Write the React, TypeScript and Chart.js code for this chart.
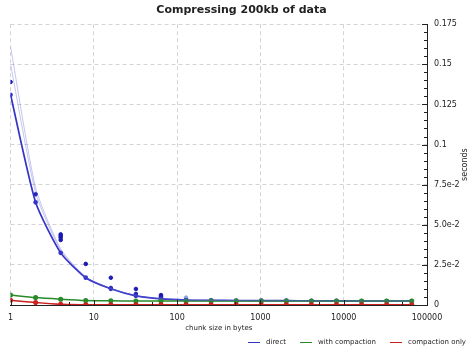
import React, { useEffect, useRef } from "react";
import { Chart, registerables } from "chart.js";

Chart.register(...registerables);

const TITLE = "Compressing 200kb of data";
const X_TITLE = "chunk size in bytes";
const Y_TITLE = "seconds";

// chunk sizes (bytes)
const chunkSizes = [1, 2, 4, 8, 16, 32, 64, 128, 256, 512, 1024, 2048, 4096, 8192, 16384, 32768, 65536];

// main series (seconds)
const direct = [0.131, 0.064, 0.0325, 0.017, 0.0101, 0.0057, 0.0038, 0.0031, 0.0029, 0.0028, 0.0027, 0.0027, 0.0026, 0.0026, 0.0025, 0.0025, 0.0025];
const withCompaction = [0.0062, 0.0046, 0.0036, 0.0028, 0.0026, 0.0025, 0.0025, 0.0025, 0.0025, 0.0025, 0.0025, 0.0025, 0.0025, 0.0025, 0.0025, 0.0025, 0.0025];
const compactionOnly = [0.003, 0.0015, 0.0004, 0.0002, 0.0001, 0.0001, 0.0001, 0.0001, 0.0001, 0.0001, 0.0001, 0.0001, 0.0001, 0.0001, 0.0001, 0.0001, 0.0001];

// other (faded) direct runs
const directRunA = [0.161, 0.073, 0.035, 0.0175, 0.0104, 0.0058, 0.0039, 0.0031, 0.0029, 0.0028, 0.0027, 0.0027, 0.0026, 0.0026, 0.0025, 0.0025, 0.0025];
const directRunB = [0.150, 0.070, 0.034, 0.0172, 0.0102, 0.0057, 0.0038, 0.0031, 0.0029, 0.0028, 0.0027, 0.0027, 0.0026, 0.0026, 0.0025, 0.0025, 0.0025];

// scattered direct samples
const directSampleX = [1, 2, 4, 4, 4, 4, 8, 16, 16, 32, 32, 64, 64, 64];
const directSampleY = [0.139, 0.069, 0.0405, 0.042, 0.043, 0.044, 0.0256, 0.017, 0.0106, 0.0100, 0.0069, 0.0062, 0.0055, 0.0048];
const lightSampleX = [128, 128];
const lightSampleY = [0.0046, 0.0040];

const Y_MIN = 0;
const Y_MAX = 0.175;
const Y_STEP = 0.025;
const Y_MINOR_STEP = 0.005;
const Y_TICK_LABELS = ["0", "2.5e-2", "5.0e-2", "7.5e-2", "0.1", "0.125", "0.15", "0.175"];
const X_MIN = 1;
const X_MAX = 100000;

const LEGEND_ITEMS = ["direct", "with compaction", "compaction only"];

const BLUE = "#3434c8";
const GREEN = "#2a8a2a";
const RED = "#cc2020";
const FONT = "'DejaVu Sans', Verdana, sans-serif";

const pts = (xs: number[], ys: number[]) => xs.map((x, i) => ({ x, y: ys[i] }));

const overlayPlugin = {
  id: "overlay",
  afterDraw(chart: any) {
    const { ctx, chartArea, scales } = chart;
    const xs = scales.x;
    const ys = scales.y;
    ctx.save();
    ctx.strokeStyle = "#222";
    ctx.lineWidth = 1;
    ctx.beginPath();
    // x ticks: majors at powers of 10, minors at 5x
    for (let e = 0; e <= 5; e++) {
      const p = Math.round(xs.getPixelForValue(Math.pow(10, e))) + 0.5;
      ctx.moveTo(p, chartArea.bottom);
      ctx.lineTo(p, chartArea.bottom - 5);
      if (e < 5) {
        const q = Math.round(xs.getPixelForValue(5 * Math.pow(10, e))) + 0.5;
        ctx.moveTo(q, chartArea.bottom);
        ctx.lineTo(q, chartArea.bottom - 3);
      }
    }
    const n = Math.round((Y_MAX - Y_MIN) / Y_MINOR_STEP);
    for (let i = 0; i <= n; i++) {
      const v = Y_MIN + i * Y_MINOR_STEP;
      const p = Math.round(ys.getPixelForValue(v)) + 0.5;
      const major = i % Math.round(Y_STEP / Y_MINOR_STEP) === 0;
      ctx.moveTo(chartArea.right, p);
      ctx.lineTo(chartArea.right - (major ? 5 : 3), p);
    }
    ctx.stroke();

    // y axis title (rotated, reading bottom-to-top)
    ctx.fillStyle = "#222";
    ctx.font = `8px ${FONT}`;
    ctx.textAlign = "center";
    ctx.textBaseline = "middle";
    ctx.save();
    ctx.translate(465, (chartArea.top + chartArea.bottom) / 2);
    ctx.rotate(-Math.PI / 2);
    ctx.fillText(Y_TITLE, 0, 0);
    ctx.restore();

    // legend, right-aligned
    const colors = [BLUE, GREEN, RED];
    const lineW = 12;
    const gapLT = 6;
    const gapItems = 14;
    ctx.font = `7px ${FONT}`;
    ctx.textAlign = "left";
    const widths = LEGEND_ITEMS.map((t) => ctx.measureText(t).width);
    const total = widths.reduce((a, w) => a + lineW + gapLT + w, 0) + gapItems * (LEGEND_ITEMS.length - 1);
    let cx = 466 - total;
    const ly = 342;
    LEGEND_ITEMS.forEach((t, i) => {
      ctx.strokeStyle = colors[i];
      ctx.lineWidth = 1;
      ctx.beginPath();
      ctx.moveTo(cx, ly + 0.5);
      ctx.lineTo(cx + lineW, ly + 0.5);
      ctx.stroke();
      ctx.fillStyle = "#222";
      ctx.fillText(t, cx + lineW + gapLT, ly);
      cx += lineW + gapLT + widths[i] + gapItems;
    });
    ctx.restore();
  },
};

export default function App() {
  const ref = useRef<HTMLCanvasElement | null>(null);
  useEffect(() => {
    if (!ref.current) return;
    const faded = "rgba(90,90,210,0.35)";
    const chart = new Chart(ref.current, {
      type: "line",
      data: {
        datasets: [
          { label: "runA", data: pts(chunkSizes, directRunA), borderColor: faded, borderWidth: 1, pointRadius: 0, tension: 0.2 },
          { label: "runB", data: pts(chunkSizes, directRunB), borderColor: faded, borderWidth: 1, pointRadius: 0, tension: 0.2 },
          { label: "compaction only", data: pts(chunkSizes, compactionOnly), borderColor: RED, backgroundColor: RED, borderWidth: 1.5, pointRadius: 1.8, tension: 0.2 },
          { label: "with compaction", data: pts(chunkSizes, withCompaction), borderColor: GREEN, backgroundColor: GREEN, borderWidth: 1.5, pointRadius: 1.8, tension: 0.2 },
          { label: "direct", data: pts(chunkSizes, direct), borderColor: BLUE, backgroundColor: BLUE, borderWidth: 1.7, pointRadius: 1.5, tension: 0.2 },
          { label: "samples", data: pts(directSampleX, directSampleY), showLine: false, borderColor: "#1a1ab0", backgroundColor: "#1a1ab0", pointRadius: 1.8 },
          { label: "samplesLight", data: pts(lightSampleX, lightSampleY), showLine: false, borderColor: "#8fa8e0", backgroundColor: "#8fa8e0", pointRadius: 1.8 },
        ],
      },
      options: {
        responsive: false,
        animation: false,
        layout: { padding: { left: 9, right: 0, top: 0, bottom: 22 } },
        plugins: {
          legend: { display: false },
          tooltip: { enabled: false },
          title: {
            display: true,
            text: TITLE,
            color: "#222",
            font: { family: FONT, size: 11, weight: "bold" },
            padding: { top: 4, bottom: 7 },
          },
        },
        scales: {
          x: {
            type: "logarithmic",
            min: X_MIN,
            max: X_MAX,
            grid: {
              color: (c: any) => (c.tick && c.tick.major ? "#d4d4d4" : "rgba(0,0,0,0)"),
              drawTicks: false,
            },
            border: { display: true, color: "#222", dash: [4, 3] },
            ticks: {
              autoSkip: false,
              maxRotation: 0,
              padding: 8,
              color: "#222",
              font: { family: FONT, size: 8 },
              callback: (v: any) => {
                const l = Math.log10(Number(v));
                return Math.abs(l - Math.round(l)) < 1e-9 ? String(Math.round(Math.pow(10, Math.round(l)))) : "";
              },
            },
            title: {
              display: true,
              text: X_TITLE,
              color: "#222",
              font: { family: FONT, size: 7 },
              padding: { top: 0, bottom: 1 },
            },
            afterFit: (s: any) => {
              s.height = 28;
            },
          },
          y: {
            position: "right",
            min: Y_MIN,
            max: Y_MAX,
            grid: { color: "#d4d4d4", drawTicks: false },
            border: { display: true, color: "#222", dash: [4, 3] },
            ticks: {
              stepSize: Y_STEP,
              padding: 7,
              color: "#222",
              font: { family: FONT, size: 8 },
              callback: (v: any) => {
                const k = Math.round(Number(v) / Y_STEP);
                return Y_TICK_LABELS[k] ?? "";
              },
            },
            afterFit: (s: any) => {
              s.width = 47;
            },
          },
        },
      },
      plugins: [overlayPlugin],
    });
    return () => chart.destroy();
  }, []);
  return (
    <div style={{ position: "absolute", left: 0, top: 0, width: 474, height: 355, background: "#fff" }}>
      <canvas ref={ref} width={474} height={355} />
    </div>
  );
}
